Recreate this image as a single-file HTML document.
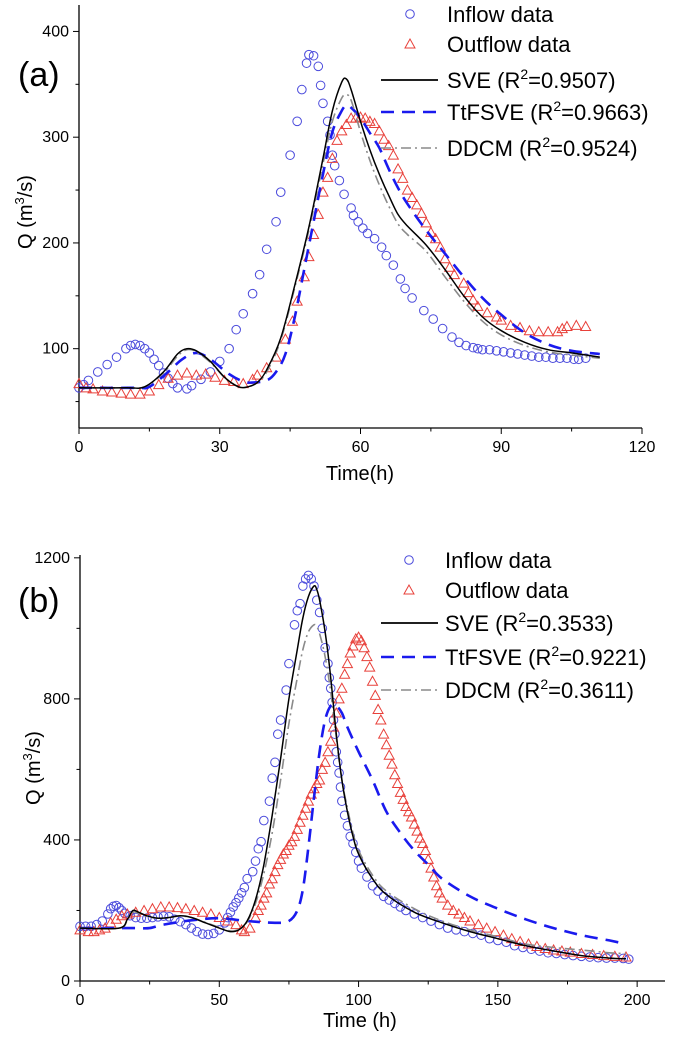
<!DOCTYPE html>
<html><head><meta charset="utf-8"><style>
html,body{margin:0;padding:0;background:#fff;}
svg{display:block;font-family:"Liberation Sans",Arial,sans-serif;}
</style></head><body>
<svg id="chart" width="685" height="1050" viewBox="0 0 685 1050" xmlns="http://www.w3.org/2000/svg"></svg>
<script>
// ---------- Panel (a) data ----------
const aInT=[0,1,2,4,6,8,10,11,12,13,14,15,16,17,18,19,20,21,23,24,26,28,30,32,33.5,35,37,38.5,40,42,43,45,46.5,47.5,48.5,49,50,51,51.5,52,53,53.5,54,54.5,55.5,56.5,58,58.5,59.5,60.5,61.5,63,64.5,65.5,67,68.5,69.5,71,73.5,75.5,77.5,79.5,81,82.5,84,85,86,87.5,89,90.5,92,93.5,95,96.5,98,99.5,101,102.5,104,105.5,106.5,108];
const aInQ=[63,66,70,78,85,92,100,103,104,103,100,96,90,84,77,72,67,63,62,65,71,78,88,100,118,133,152,170,194,220,248,283,315,345,370,378,377,367,349,332,315,302,283,273,259,246,233,226,220,214,209,204,196,188,179,166,157,148,136,128,119,111,106,103,101,100,99,99,98,97,96,95,94,93,92,92,91,91,91,90,90,91];
const aOutT=[0,1.5,3,5,7,9,11,13,15,17,19,21,23,25,27,29,31,33,35,37,38,40,42,44,45.5,46.5,48,49,50,51,52,53,54,55,56,57,58,59,60,61,62,63,64,65,66,67,68,69,70,71,72,73,74,75,76,77,78,79,80,82,83,84,85,87,89,90,92,94,96,98,100,102,103,104,106,108];
const aOutQ=[67,63,62,60,59,58,57,57,60,66,72,75,77,75,76,73,70,69,67,71,75,82,92,109,126,145,168,187,208,227,248,262,280,297,306,312,318,318,319,318,315,313,306,298,292,283,270,261,250,243,236,228,219,210,204,196,185,177,170,162,153,146,140,134,130,127,122,120,117,116,116,116,119,121,122,121];
const aSveT=[0,10,14,18,21,23,25,28,31,34,36,38,40,43,46,49,52,54,56,57,58,60,62,64,66,68,70,74,78,82,86,90,95,100,105,111];
const aSveQ=[63,63,64,78,95,100,98,88,73,64,64,68,80,110,160,215,280,325,352,355,345,315,288,265,245,227,216,198,175,150,130,117,106,99,96,92];
const aTtT=[0,12,15,19,22,25,28,32,35,37,40,42,44,46,48,50,52,54,56,57,58,60,62,64,66,68,70,74,78,82,86,90,95,100,105,111];
const aTtQ=[63,63,64,78,90,96,90,76,69,68,70,78,95,130,175,220,265,305,325,330,328,318,304,290,270,252,237,212,190,168,148,132,115,104,98,95];
const aDdT=[0,10,14,18,21,23,25,28,31,34,36,38,40,43,46,49,52,54,56,57,58,60,62,64,66,68,70,74,78,82,86,90,95,100,105,111];
const aDdQ=[63,63,64,77,93,99,97,87,73,64,64,68,78,108,158,212,275,315,337,340,335,305,278,255,235,218,208,192,168,145,126,113,103,97,94,91];
const aXTicks=[0,30,60,90,120];
const aYTicks=[100,200,300,400];

// ---------- Panel (b) data ----------
const bInT=[0,2,4,6,8,10,11,12,13,14,15,16,18,20,22,24,26,28,30,32,34,36,38,40,42,44,46,48,50,52,53,54,55,56,57,58,59,60,62,63,64,65,66,68,69,70,71,72,74,75,77,78,79,80,81,82,83,84,85,86,87,88,89,89.5,90,90.5,91,91.5,92,92.5,93,93.5,94,95,96,97,98,99,100,101,103,105,107,109,111,113,115,117,120,123,126,129,132,135,138,141,144,147,150,153,156,159,162,165,168,171,174,177,180,183,186,189,192,195,197];
const bInQ=[155,155,155,160,170,190,205,212,214,208,200,192,185,180,178,178,180,182,184,182,175,168,160,150,140,133,132,135,145,165,180,195,210,222,235,250,265,290,310,340,375,395,455,510,575,620,700,740,825,900,1010,1050,1070,1120,1140,1150,1140,1120,1080,1045,1000,945,900,860,830,790,740,700,650,620,590,550,510,470,440,410,390,365,340,320,295,270,255,240,230,220,210,200,190,180,170,160,150,145,140,135,130,120,115,110,100,95,90,85,80,78,75,72,70,68,66,65,65,64,62];
const bOutT=[0,3,5,7,9,11,13,15,17,20,23,26,29,32,35,38,41,44,47,50,53,56,58,59,61,63,64,65,66,67,68,69,70,71,72,73,74,75,76,77,78,79,80,81,82,83,84,85,86,87,88,89,90,91,92,93,94,95,96,97,98,99,100,101,102,103,104,105,106,107,108,109,110,111,112,113,114,115,116,117,118,119,120,121,122,123,124,125,126,127,128,129,130,132,134,136,138,140,143,146,149,152,155,158,161,164,167,170,173,176,180,184,188,192,196];
const bOutQ=[145,140,140,145,150,165,175,185,190,195,200,205,210,210,208,205,200,195,190,180,170,160,145,140,150,180,200,215,235,250,275,290,310,330,345,360,370,385,395,410,430,450,470,490,510,530,545,560,570,600,620,650,680,720,760,800,830,870,900,930,950,970,975,965,945,920,890,850,810,770,740,700,670,640,615,585,560,535,515,495,480,465,445,425,405,390,370,345,320,295,270,250,235,215,200,190,180,170,160,150,140,130,120,112,105,98,92,88,85,82,78,75,72,70,68];
const bSveT=[0,14,17,19,21,24,28,32,36,40,45,50,54,57,60,63,66,69,72,75,78,80,82,84,85,86,88,90,92,94,96,98,100,105,110,120,130,140,150,160,170,180,190,196];
const bSveQ=[150,150,175,200,195,185,178,180,185,180,165,150,140,145,170,230,330,470,630,800,940,1030,1090,1120,1110,1080,990,860,700,570,480,410,360,290,245,195,165,140,120,100,85,72,65,63];
const bTtT=[0,10,20,25,30,40,50,60,70,75,78,80,82,84,86,88,90,92,94,96,100,105,110,115,120,125,130,140,150,160,170,180,190,196];
const bTtQ=[150,150,150,150,160,172,178,170,165,170,200,260,380,520,650,740,780,780,760,720,650,570,480,420,370,330,290,240,205,175,150,130,115,105];
const bDdT=[0,14,17,19,21,24,28,32,36,40,45,50,54,57,60,63,66,69,72,75,78,80,82,84,85,86,88,90,92,94,96,98,100,105,110,120,130,140,150,160,170,180,190,196];
const bDdQ=[150,150,172,195,192,183,178,180,184,180,166,152,142,146,168,220,305,420,570,730,860,940,990,1010,1005,985,920,820,690,570,490,420,370,300,255,205,170,145,125,105,95,88,80,78];
const bXTicks=[0,50,100,150,200];
const bYTicks=[0,400,800,1200];

const NS="http://www.w3.org/2000/svg";
const svg=document.getElementById('chart');
function mk(tag,attrs,parent){const e=document.createElementNS(NS,tag);for(const k in attrs)e.setAttribute(k,attrs[k]);(parent||svg).appendChild(e);return e;}

function spline(pts){
  let d="M"+pts[0][0].toFixed(1)+","+pts[0][1].toFixed(1);
  for(let i=0;i<pts.length-1;i++){
    const p0=pts[Math.max(0,i-1)],p1=pts[i],p2=pts[i+1],p3=pts[Math.min(pts.length-1,i+2)];
    const c1=[p1[0]+(p2[0]-p0[0])/6,p1[1]+(p2[1]-p0[1])/6];
    const c2=[p2[0]-(p3[0]-p1[0])/6,p2[1]-(p3[1]-p1[1])/6];
    d+=" C"+c1[0].toFixed(1)+","+c1[1].toFixed(1)+" "+c2[0].toFixed(1)+","+c2[1].toFixed(1)+" "+p2[0].toFixed(1)+","+p2[1].toFixed(1);
  }
  return d;
}

function panel(cfg){
  const g=mk('g',{});
  
  
  const X=t=>cfg.x0+(t-cfg.xmin)/(cfg.xmax-cfg.xmin)*(cfg.x1-cfg.x0);
  const Y=q=>cfg.y0-(q-cfg.ymin)/(cfg.ymax-cfg.ymin)*(cfg.y0-cfg.y1);
  const ax=mk('line',{x1:cfg.x0,y1:cfg.y0,x2:cfg.x1,y2:cfg.y0,stroke:'#000','stroke-width':1.3},g);
  
  const ay=mk('line',{x1:cfg.x0,y1:cfg.y0,x2:cfg.x0,y2:cfg.y1,stroke:'#000','stroke-width':1.3},g);
  
  for(let t=cfg.xmin;t<=cfg.xmax+1e-6;t+=cfg.xminor){
    const major=cfg.xTicks.includes(t);
    mk('line',{x1:X(t),y1:cfg.y0,x2:X(t),y2:cfg.y0+(major?6:3.5),stroke:'#000','stroke-width':1},g);
  }
  cfg.xTicks.forEach(t=>{const tx=mk('text',{x:X(t),y:cfg.y0+24,'text-anchor':'middle','font-size':16},g);tx.textContent=t;
    });
  for(let q=cfg.yminorStart;q<=cfg.ymax+1e-6;q+=cfg.yminor){
    const major=cfg.yTicks.includes(q);
    mk('line',{x1:cfg.x0,y1:Y(q),x2:cfg.x0-(major?6:3.5),y2:Y(q),stroke:'#000','stroke-width':1},g);
  }
  cfg.yTicks.forEach(q=>{const tx=mk('text',{x:cfg.x0-10,y:Y(q)+5,'text-anchor':'end','font-size':16},g);tx.textContent=q;
    });
  const xt=mk('text',{x:cfg.xtx,y:cfg.xty,'text-anchor':'middle','font-size':20},g);xt.textContent=cfg.xtitle;
  
  const yt=mk('text',{x:0,y:0,'text-anchor':'middle','font-size':20,transform:'translate('+cfg.ytx+','+cfg.yty+') rotate(-90)'},g);
  
  yt.innerHTML='Q (m<tspan dy="-8" font-size="13">3</tspan><tspan dy="8">/s)</tspan>';
  const pl=mk('text',{x:cfg.plx,y:cfg.ply,'font-size':34},g);pl.textContent=cfg.label;
  
  cfg.inT.forEach((t,i)=>{const c=mk('circle',{cx:X(t),cy:Y(cfg.inQ[i]),r:4.3,fill:'none',stroke:'#4b4bdc','stroke-width':1},g);
    });
  cfg.outT.forEach((t,i)=>{const x=X(t),y=Y(cfg.outQ[i]);
    const p=mk('polygon',{points:(x)+','+(y-5)+' '+(x-5)+','+(y+4)+' '+(x+5)+','+(y+4),fill:'none',stroke:'#e8403a','stroke-width':1},g);
    });
  const lines=[[cfg.ttT,cfg.ttQ,'#1a1aee',2.6,'13,8','ttfsve-line'],[cfg.ddT,cfg.ddQ,'#8a8a8a',1.6,'10,4,2,4','ddcm-line'],[cfg.sveT,cfg.sveQ,'#000',1.5,'','sve-line']];
  lines.forEach(l=>{const pts=l[0].map((t,i)=>[X(t),Y(l[1][i])]);
    const p=mk('path',{d:spline(pts),fill:'none',stroke:l[2],'stroke-width':l[3]},g);
    if(l[4])p.setAttribute('stroke-dasharray',l[4]);
    });
  const L=cfg.leg;
  const lg=mk('g',{},g);
  mk('circle',{cx:L.sx,cy:L.ys[0],r:4.3,fill:'none',stroke:'#4b4bdc','stroke-width':1},lg);
  mk('polygon',{points:L.sx+','+(L.ys[1]-5)+' '+(L.sx-5)+','+(L.ys[1]+4)+' '+(L.sx+5)+','+(L.ys[1]+4),fill:'none',stroke:'#e8403a','stroke-width':1},lg);
  mk('line',{x1:L.l0,x2:L.l1,y1:L.ys[2],y2:L.ys[2],stroke:'#000','stroke-width':1.8},lg);
  mk('line',{x1:L.l0,x2:L.l1,y1:L.ys[3],y2:L.ys[3],stroke:'#1a1aee','stroke-width':2.6,'stroke-dasharray':'13,8'},lg);
  mk('line',{x1:L.l0,x2:L.l1,y1:L.ys[4],y2:L.ys[4],stroke:'#8a8a8a','stroke-width':1.6,'stroke-dasharray':'10,4,2,4'},lg);
  cfg.legText.forEach((s,i)=>{const t=mk('text',{x:L.tx,y:L.ys[i]+8,'font-size':22},lg);
    
    if(s.r2){t.innerHTML=s.name+' (R<tspan dy="-9" font-size="14">2</tspan><tspan dy="9">='+s.r2+')</tspan>';}
    else t.textContent=s.name;});
}

panel({name:'panel-a',label:'(a)',plx:18,ply:86,x0:79,x1:642,y0:428,y1:5,xmin:0,xmax:120,ymin:25,ymax:425,
  xminor:15,yminor:50,yminorStart:50,xTicks:aXTicks,yTicks:aYTicks,xtitle:'Time(h)',xtx:360,xty:480,ytx:32,yty:212,
  inT:aInT,inQ:aInQ,outT:aOutT,outQ:aOutQ,sveT:aSveT,sveQ:aSveQ,ttT:aTtT,ttQ:aTtQ,ddT:aDdT,ddQ:aDdQ,
  leg:{sx:410,l0:381,l1:438,tx:447,ys:[14,44,80,112,148]},
  legText:[{name:'Inflow data'},{name:'Outflow data'},{name:'SVE',r2:'0.9507'},{name:'TtFSVE',r2:'0.9663'},{name:'DDCM',r2:'0.9524'}]});

panel({name:'panel-b',label:'(b)',plx:18,ply:612,x0:80,x1:665,y0:981,y1:555,xmin:0,xmax:210,ymin:0,ymax:1208,
  xminor:25,yminor:200,yminorStart:0,xTicks:bXTicks,yTicks:bYTicks,xtitle:'Time (h)',xtx:360,xty:1027,ytx:40,yty:768,
  inT:bInT,inQ:bInQ,outT:bOutT,outQ:bOutQ,sveT:bSveT,sveQ:bSveQ,ttT:bTtT,ttQ:bTtQ,ddT:bDdT,ddQ:bDdQ,
  leg:{sx:409,l0:381,l1:438,tx:445,ys:[560,590,623,657,690]},
  legText:[{name:'Inflow data'},{name:'Outflow data'},{name:'SVE',r2:'0.3533'},{name:'TtFSVE',r2:'0.9221'},{name:'DDCM',r2:'0.3611'}]});
</script>
</body></html>
